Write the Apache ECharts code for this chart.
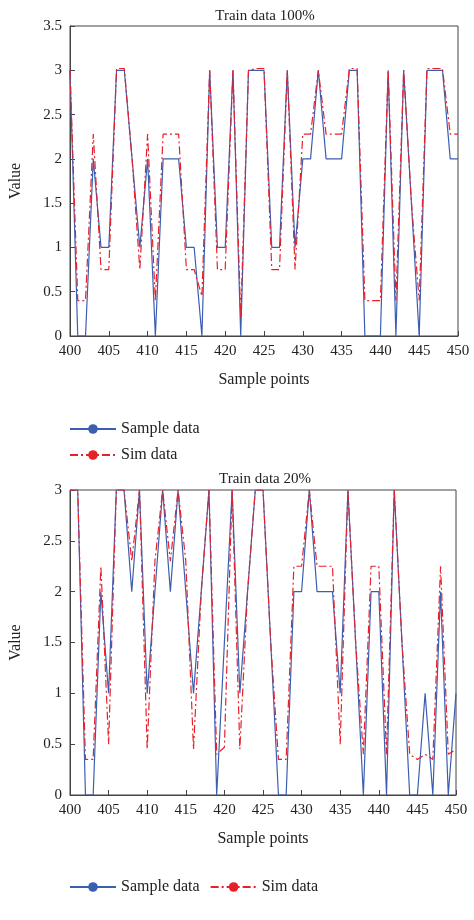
<!DOCTYPE html>
<html>
<head>
<meta charset="utf-8">
<script src="https://cdn.jsdelivr.net/npm/echarts@6/dist/echarts.min.js"></script>
<style>body{margin:0;background:#fff}#main{width:474px;height:920px}</style>
</head>
<body>
<div id="main"></div>
<script>
// x 400..450
var xs=[];
for(var i=400;i<=450;i++){xs.push(i);}
//Train data 100%
var sample1=[3,0,0,2,1,1,3,3,2,1,2,0,2,2,2,1,1,0,3,1,1,3,0,3,3,3,1,1,3,1,2,2,3,2,2,2,3,3,0,0,0,3,0,3,1.5,0,3,3,3,2,2];
var sim1=[3,0.4,0.4,2.28,0.75,0.75,3.02,3.02,2,0.75,2.28,0.4,2.28,2.28,2.28,0.75,0.75,0.45,3,0.75,0.75,3,0.2,3,3.02,3.02,0.75,0.75,3,0.75,2.28,2.28,3,2.28,2.28,2.28,3.02,3.02,0.4,0.4,0.4,3,0.4,3,1.5,0.4,3.02,3.02,3.02,2.28,2.28];
//Train data 20%
var sample2=[3,3,0,0,2,1,3,3,2,3,1,2,3,2,3,2,1,2,3,0,1.5,3,1,2,3,3,1.5,0,0,2,2,3,2,2,2,1,3,1.5,0,2,2,0,3,1.5,0,0,1,0,2,0,1];
var sim2=[3,3,0.35,0.35,2.25,0.5,3,3,2.3,3,0.45,2.3,3,2.3,3,2.3,0.45,2,3,0.4,0.47,3,0.45,2,3,3,1.5,0.35,0.35,2.25,2.25,3,2.25,2.25,2.25,0.5,3,1.5,0.4,2.25,2.25,0.4,3,1.5,0.4,0.35,0.4,0.35,2.25,0.4,0.45];
var yTicks1=[0,3.5,0.5],yTicks2=[0,3,0.5];
var font='Liberation Serif';
var txt={fontFamily:font,fontSize:16,color:'#222'};
function pairs(arr){
    return arr.map(function(v,i){return [xs[i],v];});
}
function xAxisCfg(idx){
    return {type:'value',gridIndex:idx,min:400,max:450,interval:5,
        name:'Sample points',nameLocation:'middle',nameGap:36,nameTextStyle:txt,
        axisLine:{lineStyle:{color:'#444'}},axisTick:{inside:true,lineStyle:{color:'#444'}},
        axisLabel:{fontFamily:font,fontSize:15,color:'#222'},splitLine:{show:false}};
}
function yAxisCfg(idx,t){
    return {type:'value',gridIndex:idx,min:t[0],max:t[1],interval:t[2],
        name:'Value',nameLocation:'middle',nameGap:46,nameTextStyle:txt,
        axisLine:{show:true,lineStyle:{color:'#444'}},axisTick:{inside:true,lineStyle:{color:'#444'}},
        axisLabel:{fontFamily:font,fontSize:15,color:'#222'},splitLine:{show:false}};
}
var blue='#3b5fb0',red='#e8202a';
function lineS(name,data,idx,color,dash){
    return {name:name,type:'line',xAxisIndex:idx,yAxisIndex:idx,data:pairs(data),
        symbol:'none',lineStyle:{color:color,width:1.2,type:dash},itemStyle:{color:color}};
}
var chart=echarts.init(document.getElementById('main'));
chart.setOption({
    animation:false,
    title:[
        {text:'Train data 100%',left:260,top:4,textAlign:'center',textStyle:{fontFamily:font,fontSize:15,fontWeight:'normal',color:'#222'}},
        {text:'Train data 20%',left:260,top:467,textAlign:'center',textStyle:{fontFamily:font,fontSize:15,fontWeight:'normal',color:'#222'}}
    ],
    grid:[
        {left:66,top:26,width:392,height:310,show:true,borderColor:'#444',backgroundColor:'transparent'},
        {left:66,top:490,width:390,height:305,show:true,borderColor:'#444',backgroundColor:'transparent'}
    ],
    legend:[
        {orient:'vertical',left:64,top:416,itemWidth:46,itemHeight:12,itemGap:10,
            textStyle:txt,data:['Sample data','Sim data']},
        {orient:'vertical',left:64,top:874,itemWidth:46,itemHeight:12,itemGap:10,
            textStyle:txt,data:['Sample data','Sim data']}
    ],
    xAxis:[xAxisCfg(0),xAxisCfg(1)],
    yAxis:[yAxisCfg(0,yTicks1),yAxisCfg(1,yTicks2)],
    series:[
        lineS('Sample data',sample1,0,blue,'solid'),
        lineS('Sim data',sim1,0,red,[8,3,2,3]),
        lineS('Sample data',sample2,1,blue,'solid'),
        lineS('Sim data',sim2,1,red,[8,3,2,3])
    ]
});
</script>
</body>
</html>
